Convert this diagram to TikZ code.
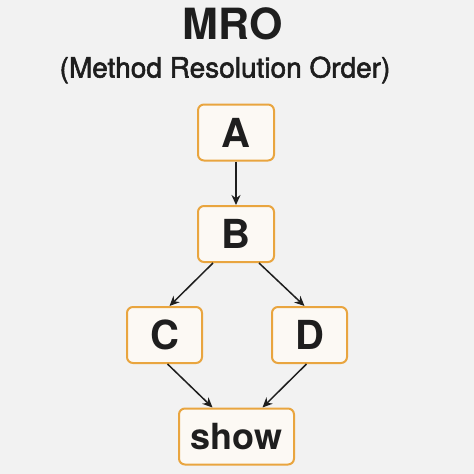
\documentclass[tikz,border=0pt]{standalone}
\usepackage{fontspec}
\setmainfont{TeX Gyre Heros}
\newfontfamily\medfont[BoldFont=TeX Gyre Heros, BoldFeatures={FakeBold=2}]{TeX Gyre Heros}
\usetikzlibrary{arrows.meta}
\definecolor{bg}{HTML}{F2F2F2}
\definecolor{boxfill}{HTML}{FCF9F4}
\definecolor{boxline}{HTML}{E9A53F}
\definecolor{ink}{HTML}{1E1E1E}
\tikzset{
  cls/.style={draw=boxline, line width=2pt, fill=boxfill, rounded corners=6pt,
    minimum height=56pt, inner sep=0pt, text=ink, font=\fontsize{40}{44}\selectfont\bfseries},
  conn/.style={draw=ink, line width=1.5pt, -{Stealth[length=10pt,width=9pt]}}
}
\begin{document}
\begin{tikzpicture}[x=1pt,y=-1pt]
\fill[bg] (0,0) rectangle (474,474);
\useasboundingbox (0,0) rectangle (474,474);
\node[text=ink, font=\fontsize{43}{46}\selectfont\bfseries] (title) at (233,24) {MRO};
\node[text=ink, font=\medfont\bfseries\fontsize{28}{31}\selectfont] (sub) at (225,70) {(Method Resolution Order)};
\node[cls, minimum width=76pt] (A) at (236,132.5) {A};
\node[cls, minimum width=76pt] (B) at (236,234) {B};
\node[cls, minimum width=75pt] (C) at (164.5,335) {C};
\node[cls, minimum width=75pt] (D) at (309.5,335) {D};
\node[cls, minimum width=115pt, font=\fontsize{36}{40}\selectfont\bfseries] (show) at (236.5,436.5) {show};
\draw[conn] (A) -- (B);
\draw[conn] ([xshift=-23pt]B.south) -- ([xshift=5pt]C.north);
\draw[conn] ([xshift=23pt]B.south) -- ([xshift=-5pt]D.north);
\draw[conn] ([xshift=3pt]C.south) -- ([xshift=-24pt]show.north);
\draw[conn] ([xshift=-3pt]D.south) -- ([xshift=26pt]show.north);
\end{tikzpicture}
\end{document}
